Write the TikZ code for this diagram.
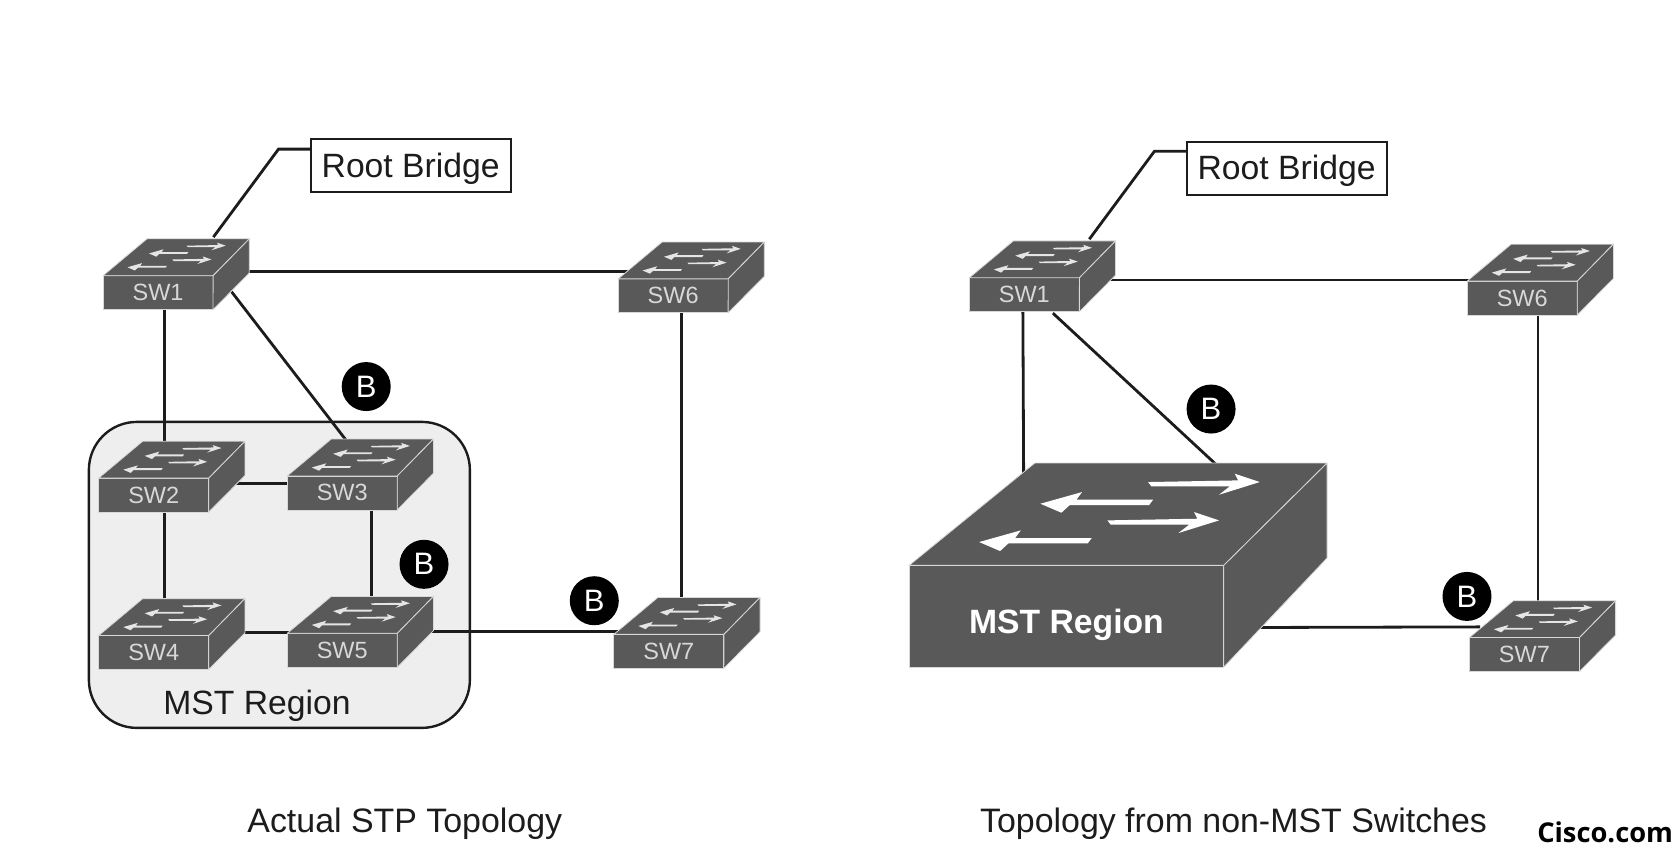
\documentclass[tikz,border=0pt]{standalone}
\usepackage{fontspec}
\setmainfont{Liberation Sans}
\newfontfamily\ciscofont{Open Sans}
\usetikzlibrary{calc,backgrounds}
\definecolor{swgray}{HTML}{595959}
\definecolor{swedge}{HTML}{D8D8D8}
\definecolor{ink}{HTML}{1C1C1C}
\definecolor{regionfill}{HTML}{EEEEEE}
\tikzset{
  swface/.style={fill=swgray,draw=swedge,line width=.8pt,line join=round},
  swsmall/.style={swface,rectangle,anchor=north west,inner sep=0pt,outer sep=0pt,minimum width=110pt,minimum height=34pt,text=swedge,font=\fontsize{23.5}{26}\selectfont},
  swlarge/.style={swface,rectangle,anchor=north west,inner sep=0pt,outer sep=0pt,minimum width=314.7pt,minimum height=101.7pt,text=white,text height=41pt,text depth=7pt,font=\fontsize{33.7}{38}\selectfont\bfseries},
  link/.style={draw=ink,line width=2.8pt},
  rootbox/.style={draw=ink,line width=2pt,fill=white,rectangle,inner sep=0pt,outer sep=0pt,minimum width=200pt,minimum height=53pt,text height=30.5pt,text depth=7pt,font=\fontsize{33.7}{38}\selectfont,text=ink},
  badge/.style={circle,fill=black,text=white,inner sep=0pt,minimum size=49pt,font=\fontsize{31}{34}\selectfont},
  caption/.style={inner sep=0pt,text=ink,font=\fontsize{33.9}{38}\selectfont},
  region/.style={draw=ink,line width=2.4pt,fill=regionfill,rounded corners=48pt}
}
% body of a switch: units and arrow colour set by the caller, origin = front top-left corner
\newcommand{\swbody}[4]{%
  \begin{scope}[shift={(#1.north west)},x=#2pt,y=-#3pt]
    \draw[swface] (0,0) -- (377,-307) -- (1254,-307) -- (944,0) -- cycle;
    \draw[swface] (944,0) -- (1254,-307) -- (1254,-22) -- (#1.south east) -- cycle;
    \foreach \sx/\sy in {0/0,-122/115}
      \fill[#4,shift={(\sx,\sy)}] (717,-250) -- (987,-255) -- (977,-275) -- (1052,-250) -- (930,-212) -- (962,-237) -- (727,-237) -- cycle;
    \foreach \sx/\sy in {0/0,-184/115}
      \fill[#4,shift={(\sx,\sy)}] (394,-185) -- (519,-220) -- (502,-197) -- (732,-197) -- (720,-181) -- (482,-181) -- (457,-158) -- cycle;
  \end{scope}}
\newcommand{\smallswitch}[4]{%
  \node[swsmall,xshift=-.8pt,yshift=.6pt] (#1) at (#2,#3) {#4\hspace{3pt}};
  \swbody{#1}{.1166}{.1200}{black!10}}
\begin{document}
\begin{tikzpicture}[x=1.0708pt,y=-1.0708pt]
\useasboundingbox (0,0) rectangle (1568,797.5);
% left topology
\node[rootbox] (rootL) at (383.5,155) {Root Bridge};
\smallswitch{swa}{97}{258}{SW1}
\smallswitch{swf}{578}{261}{SW6}
\smallswitch{swb}{93}{447}{SW2}
\smallswitch{swc}{269}{445}{SW3}
\smallswitch{swd}{93}{594}{SW4}
\smallswitch{swe}{269}{592}{SW5}
\smallswitch{swg}{574}{593}{SW7}
\node[badge] (bA) at (342,361) {B};
\node[badge] (bB) at (396,527) {B};
\node[badge] (bC) at (555,561) {B};
\node[caption] (capL) at (378,769) {Actual STP Topology};
% right topology
\node[rootbox] (rootR) at (1201.5,157) {Root Bridge};
\smallswitch{rswa}{906}{260}{SW1}
\smallswitch{rswf}{1371}{263}{SW6}
\smallswitch{rswg}{1373}{596}{SW7}
\node[swlarge] (big) at (849,528) {MST Region\hspace{4pt}};
\swbody{big}{.3333}{.3333}{white}
\node[badge] (bD) at (1131,382) {B};
\node[badge] (bE) at (1370,557) {B};
\node[caption] (capR) at (1152,769) {Topology from non-MST Switches};
\node[inner sep=0pt,text=black,font=\fontsize{27.3}{30}\selectfont\ciscofont\bfseries] (cisco) at (1499,777) {Cisco.com};
\begin{scope}[on background layer]
  \node[region,rectangle,inner sep=0pt,outer sep=0pt,minimum width=381pt,minimum height=306pt,anchor=north west] (regionbox) at (83,394) {};
  \node[inner sep=0pt,text=ink,font=\fontsize{33.7}{38}\selectfont] (regionlabel) at (240,659.5) {MST Region};
  % left links
  \draw[link] ($(rootL.north west)+(0,9)$) -- +(-30,0) -- ($(swa.north west)+(103,-36)$);
  \draw[link] ($(swa.north west)+(120,-4)$) -- ($(swf.north west)+(20,-7)$);
  \draw[link] ($(swa.north west)+(120,15)$) -- ($(swc.north west)+(56,-32)$);
  \draw[link] ($(swa.north west)+(57,32)$) -- ($(swb.north west)+(61,-20)$);
  \draw[link] ($(swb.north west)+(120,5)$) -- ($(swc.north west)+(5,7)$);
  \draw[link] ($(swb.north west)+(61,32)$) -- ($(swd.north west)+(61,-20)$);
  \draw[link] ($(swc.north west)+(79,32)$) -- ($(swe.north west)+(79,-20)$);
  \draw[link] ($(swd.north west)+(120,-3)$) -- ($(swe.north west)+(5,-1)$);
  \draw[link] ($(swe.north west)+(120,-2)$) -- ($(swg.north west)+(5,-3)$);
  \draw[link] ($(swf.north west)+(59,32)$) -- ($(swg.north west)+(63,-20)$);
  % right links
  \draw[link] ($(rootR.north west)+(0,9)$) -- +(-30,0) -- ($(rswa.north west)+(112,-36)$);
  \draw[link] ($(rswa.north west)+(120,2)$) -- ($(rswf.north west)+(5,-1)$);
  \draw[link] ($(rswa.north west)+(50,32)$) -- ($(big.north west)+(107,-78)$);
  \draw[link] ($(rswa.north west)+(78,33)$) -- ($(big.north west)+(288,-93)$);
  \draw[link] ($(big.north west)+(325,58)$) -- ($(rswg.north west)+(10,-10)$);
  \draw[link] ($(rswf.north west)+(66,32)$) -- ($(rswg.north west)+(64,-20)$);
\end{scope}
\end{tikzpicture}
\end{document}
